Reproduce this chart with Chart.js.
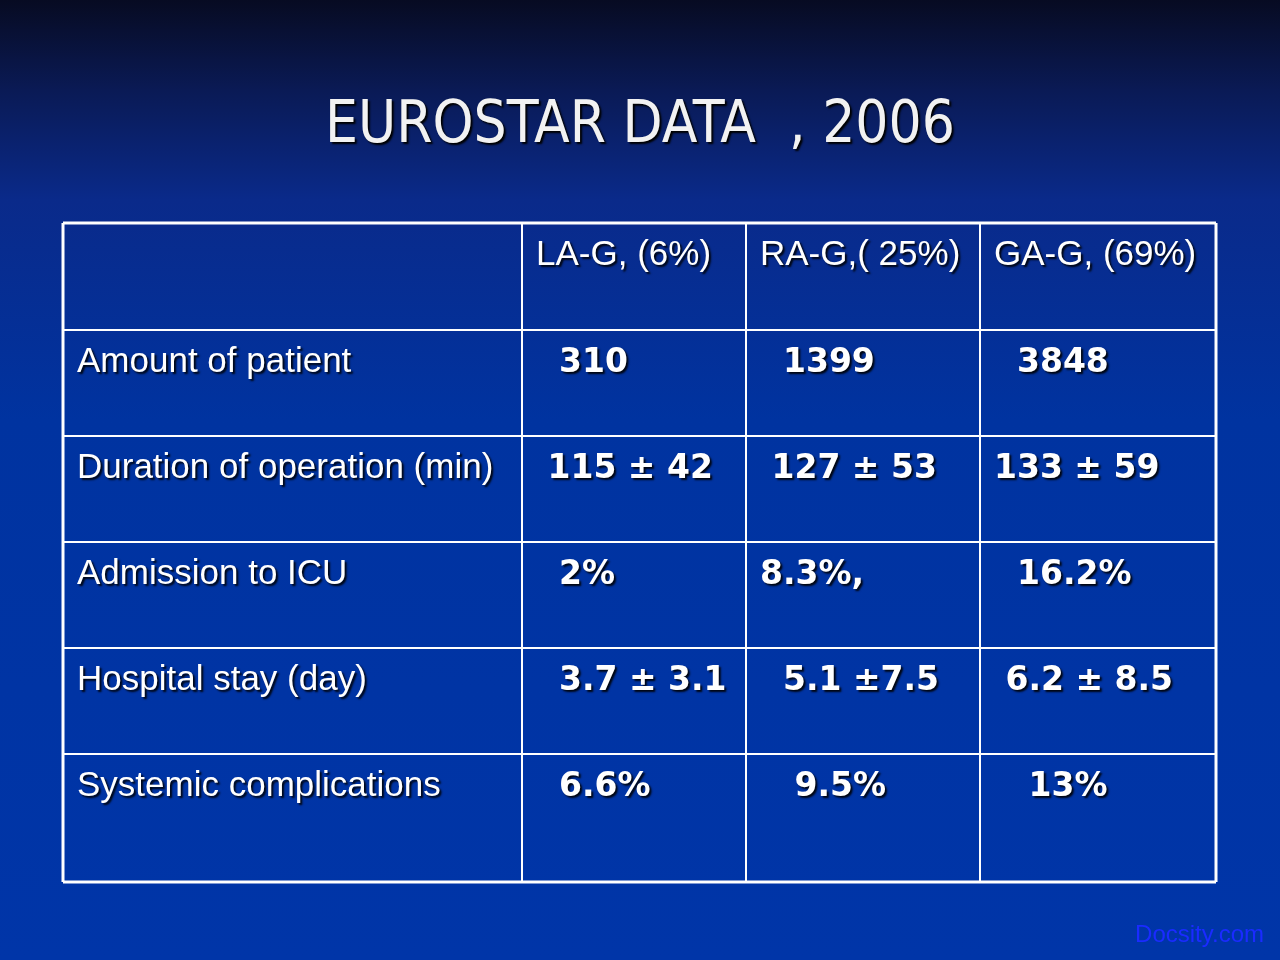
<!DOCTYPE html>
<html>
<head>
<meta charset="utf-8">
<script src="https://cdn.jsdelivr.net/npm/chart.js@4"></script>
<style>
  html, body { margin: 0; padding: 0; }
  body {
    width: 1280px; height: 960px; overflow: hidden; position: relative;
    background: linear-gradient(to bottom, #070b22 0px, #0a1a55 90px, #0a2a8a 200px, #0033a0 420px, #0035a8 960px);
    font-family: "Liberation Sans", sans-serif;
  }
  #title {
    position: absolute; top: 88px; left: 0; width: 1280px; text-align: center;
    color: #f2f2f2; font-size: 58px; text-shadow: 2px 2px 2px #000;
    font-family: "DejaVu Sans Condensed", "DejaVu Sans", sans-serif;
  }
  #wm { position: absolute; right: 16px; bottom: 12px; color: #1a2bff; font-size: 24px; }
  canvas { position: absolute; left: 0; top: 0; }
</style>
</head>
<body>
<div id="title">EUROSTAR DATA &nbsp;, 2006</div>
<canvas id="table" width="1280" height="960"></canvas>
<div id="wm">Docsity.com</div>
<script>
// table content
const groups = ['LA-G, (6%)', 'RA-G,( 25%)', 'GA-G, (69%)'];
const measures = ['Amount of patient', 'Duration of operation (min)', 'Admission to ICU', 'Hospital stay (day)', 'Systemic complications'];
const laValues = ['  310', ' 115 ± 42', '  2%', '  3.7 ± 3.1', '  6.6%'];
const raValues = ['  1399', ' 127 ± 53', '8.3%,', '  5.1 ±7.5', '   9.5%'];
const gaValues = ['  3848', '133 ± 59', '  16.2%', ' 6.2 ± 8.5', '   13%'];

// layout (not data)
const colWidths = [459, 224, 234, 236];
const rowHeights = [107, 106, 106, 106, 106, 128];

const sum = a => a.reduce((s, v) => s + v, 0);
const edges = a => a.reduce((acc, v) => { acc.push(acc[acc.length - 1] + v); return acc; }, [0]);

const tablePlugin = {
    id: 'tableDraw',
    afterDraw(chart) {
        const ctx = chart.ctx;
        const xs = chart.scales.x, ys = chart.scales.y;
        const colEdges = edges(colWidths), rowEdges = edges(rowHeights);
        const L = xs.getPixelForValue(0), R = xs.getPixelForValue(sum(colWidths));
        const T = ys.getPixelForValue(0), B = ys.getPixelForValue(sum(rowHeights));

        ctx.save();
        ctx.strokeStyle = '#ffffff';
        colEdges.forEach((c, i) => {
            const x = xs.getPixelForValue(c);
            ctx.lineWidth = (i === 0 || i === colEdges.length - 1) ? 3 : 2;
            ctx.beginPath(); ctx.moveTo(x, T); ctx.lineTo(x, B); ctx.stroke();
        });
        rowEdges.forEach((r, i) => {
            const y = ys.getPixelForValue(r);
            ctx.lineWidth = (i === 0 || i === rowEdges.length - 1) ? 3 : 2;
            ctx.beginPath(); ctx.moveTo(L, y); ctx.lineTo(R, y); ctx.stroke();
        });

        ctx.fillStyle = '#ffffff';
        ctx.shadowColor = 'rgba(0,0,0,0.9)';
        ctx.shadowOffsetX = 2; ctx.shadowOffsetY = 2; ctx.shadowBlur = 2;
        ctx.textBaseline = 'top';
        ctx.textAlign = 'left';

        const cellText = (col, row, text, bold) => {
            const x = xs.getPixelForValue(colEdges[col]) + 14;
            const y = ys.getPixelForValue(rowEdges[row]) + (bold ? 17 : 15);
            ctx.font = bold ? 'bold 33px "DejaVu Sans", sans-serif' : '35px "Liberation Sans", sans-serif';
            ctx.fillText(text, x, y);
        };

        groups.forEach((g, i) => cellText(i + 1, 0, g, false));
        measures.forEach((m, i) => {
            cellText(0, i + 1, m, false);
            cellText(1, i + 1, laValues[i], true);
            cellText(2, i + 1, raValues[i], true);
            cellText(3, i + 1, gaValues[i], true);
        });
        ctx.restore();
    }
};

new Chart(document.getElementById('table'), {
    type: 'scatter',
    data: { datasets: [{ data: [] }] },
    options: {
        responsive: false,
        animation: false,
        layout: { padding: { left: 63, right: 64, top: 223, bottom: 78 } },
        plugins: { legend: { display: false }, tooltip: { enabled: false } },
        scales: {
            x: { type: 'linear', min: 0, max: sum(colWidths), display: false },
            y: { type: 'linear', min: 0, max: sum(rowHeights), reverse: true, display: false }
        }
    },
    plugins: [tablePlugin]
});
</script>
</body>
</html>
